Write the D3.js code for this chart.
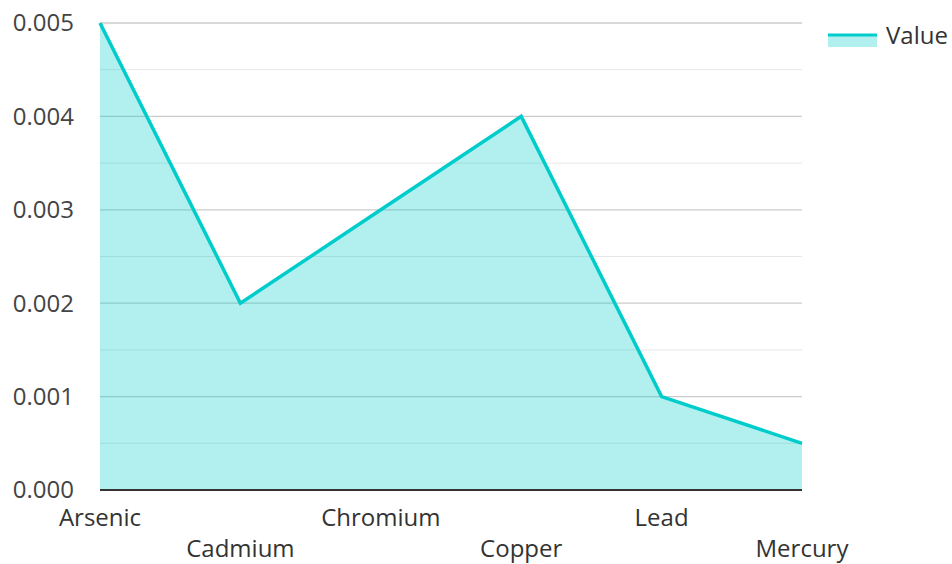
<!DOCTYPE html>
<html><head><meta charset="utf-8">
<script src="https://cdn.jsdelivr.net/npm/d3@7"></script>
<style>body{margin:0;background:#fff}svg{display:block;font-family:"Open Sans",sans-serif}</style>
</head><body><svg id="c" width="952" height="564"></svg>
<script>
const categories = ["Arsenic","Cadmium","Chromium","Copper","Lead","Mercury"];
const values = [0.005,0.002,0.003,0.004,0.001,0.0005];
const yTicks = [0,0.001,0.002,0.003,0.004,0.005];
const yMinor = [0.0005,0.0015,0.0025,0.0035,0.0045];
const seriesName = "Value";

const svg = d3.select("#c");
const L=100,R=802,T=23,B=490;
const x = d3.scalePoint().domain(categories).range([L,R]);
const y = d3.scaleLinear().domain([0,0.005]).range([B,T]);

svg.append("g").selectAll("line").data(yMinor).join("line")
  .attr("x1",L).attr("x2",R).attr("y1",d=>y(d)).attr("y2",d=>y(d))
  .attr("stroke","#e6e6e6").attr("stroke-width",1);
svg.append("g").selectAll("line").data(yTicks.filter(d=>d>0)).join("line")
  .attr("x1",L).attr("x2",R).attr("y1",d=>y(d)).attr("y2",d=>y(d))
  .attr("stroke","#cccccc").attr("stroke-width",1.3);

const data = categories.map((c,i)=>({c,v:values[i]}));
svg.append("path").datum(data)
  .attr("d",d3.area().x(d=>x(d.c)).y0(y(0)).y1(d=>y(d.v)))
  .attr("fill","#00cccc").attr("fill-opacity",0.3);
svg.append("path").datum(data)
  .attr("d",d3.line().x(d=>x(d.c)).y(d=>y(d.v)))
  .attr("fill","none").attr("stroke","#00cccc").attr("stroke-width",3.5).attr("stroke-linejoin","miter");

svg.append("line").attr("x1",L).attr("x2",R).attr("y1",B).attr("y2",B)
  .attr("stroke","#333").attr("stroke-width",2);

svg.append("g").selectAll("text").data(yTicks).join("text")
  .attr("x",74).attr("y",d=>y(d)).attr("dy","0.35em").attr("text-anchor","end")
  .attr("font-size",24).attr("fill","#444").text(d=>d3.format(".3f")(d));

svg.append("g").selectAll("text").data(categories).join("text")
  .attr("x",d=>x(d)).attr("y",(d,i)=>i%2===0?526:557).attr("text-anchor","middle")
  .attr("font-size",24).attr("fill","#333").text(d=>d);

const lg = svg.append("g");
lg.append("rect").attr("x",828).attr("y",34).attr("width",49).attr("height",13).attr("fill","#00cccc").attr("fill-opacity",0.3);
lg.append("line").attr("x1",828).attr("x2",877).attr("y1",35).attr("y2",35).attr("stroke","#00cccc").attr("stroke-width",3);
lg.append("text").attr("x",886).attr("y",44).attr("font-size",24).attr("fill","#333").text(seriesName);
</script></body></html>
